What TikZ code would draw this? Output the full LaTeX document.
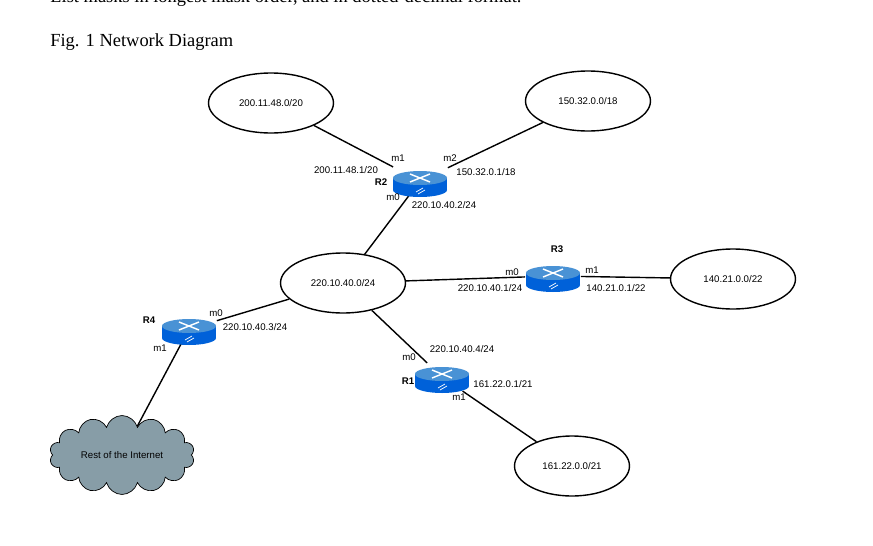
\documentclass[tikz,border=0pt]{standalone}
\usepackage{fontspec}
\setmainfont{Liberation Serif}
\newfontfamily\labelfont{Liberation Sans}
\usetikzlibrary{shapes.geometric, shapes.symbols, positioning, calc}

\newcommand{\routerlook}[1]{%
  \fill[blue!55!cyan!85!black] ($(#1)+(-27,-3)$) rectangle ($(#1)+(27,9)$);
  \fill[blue!55!cyan!85!black] ($(#1)+(0,9)$) ellipse[x radius=27, y radius=7];
  \fill[cyan!60!blue!75] ($(#1)+(0,-3)$) ellipse[x radius=27, y radius=7];
  \draw[white, thick] ($(#1)+(-10,-7)$) -- ($(#1)+(10,1)$) ($(#1)+(-10,1)$) -- ($(#1)+(10,-7)$);
  \draw[white, thin] ($(#1)+(-4,11)$) -- ($(#1)+(3,7)$) ($(#1)+(-2,13)$) -- ($(#1)+(5,9)$);
}

\begin{document}
\begin{tikzpicture}[
    x=0.02cm, y=-0.02cm,
    net/.style={ellipse, draw, thick, minimum width=2.5cm, minimum height=1.2cm, font=\labelfont\fontsize{5.5}{6}\selectfont},
    router/.style={rectangle, minimum width=1.1cm, minimum height=0.55cm, inner sep=0pt},
    lbl/.style={font=\labelfont\fontsize{5.5}{6}\selectfont, inner sep=0pt},
    rname/.style={font=\labelfont\bfseries\fontsize{5.5}{6}\selectfont, inner sep=0pt},
    link/.style={thick}
]
\useasboundingbox (0,0) rectangle (873,545);

% Header text
\node[anchor=base west, inner sep=0pt, font=\fontsize{10.5}{12}\selectfont] (top) at (50,2) {List masks in longest mask order, and in dotted-decimal format.};
\node[anchor=base west, inner sep=0pt, font=\fontsize{10.5}{12}\selectfont] (fig) at (50,46) {Fig. 1 Network Diagram};

% Networks
\node[net] (n200) at (271,103) {200.11.48.0/20};
\node[net] (n150) at (588,101) {150.32.0.0/18};
\node[net] (n220) at (343,283) {220.10.40.0/24};
\node[net] (n140) at (733,279) {140.21.0.0/22};
\node[net, minimum width=2.3cm] (n161) at (572,466) {161.22.0.0/21};
\node[cloud, cloud puffs=14, aspect=2.3, draw, fill=gray!50!cyan!60!black!70, minimum width=2.9cm, minimum height=1.3cm, font=\labelfont\fontsize{5.5}{6}\selectfont] (inet) at (122,455) {Rest of the Internet};

% Routers
\node[router] (r2) at (420,181) {};
\node[router] (r3) at (553,276) {};
\node[router] (r4) at (189,329) {};
\node[router] (r1) at (442,377) {};

% Links
\draw[link] (n200) -- (r2);
\draw[link] (r2) -- (n150);
\draw[link] (r2) -- (n220);
\draw[link] (n220) -- (r3);
\draw[link] (r3) -- (n140);
\draw[link] (n220) -- (r4);
\draw[link] (r4) -- (inet);
\draw[link] (n220) -- (r1);
\draw[link] (r1) -- (n161);

\routerlook{r2}
\routerlook{r3}
\routerlook{r4}
\routerlook{r1}

% Router labels
\node[rname] at (381,182) {R2};
\node[lbl] at (398,158) {m1};
\node[lbl] at (450,158) {m2};
\node[lbl] at (346,170) {200.11.48.1/20};
\node[lbl] at (486,172) {150.32.0.1/18};
\node[lbl] at (393,197) {m0};
\node[lbl] at (444,205) {220.10.40.2/24};

\node[rname] at (557,249) {R3};
\node[lbl] at (512,272) {m0};
\node[lbl] at (592,270) {m1};
\node[lbl] at (490,288) {220.10.40.1/24};
\node[lbl] at (616,288) {140.21.0.1/22};

\node[rname] at (149,320) {R4};
\node[lbl] at (216,313) {m0};
\node[lbl] at (255,327) {220.10.40.3/24};
\node[lbl] at (160,348) {m1};

\node[rname] at (408,381) {R1};
\node[lbl] at (409,357) {m0};
\node[lbl] at (462,349) {220.10.40.4/24};
\node[lbl] at (503,384) {161.22.0.1/21};
\node[lbl] at (459,397) {m1};

\end{tikzpicture}
\end{document}
